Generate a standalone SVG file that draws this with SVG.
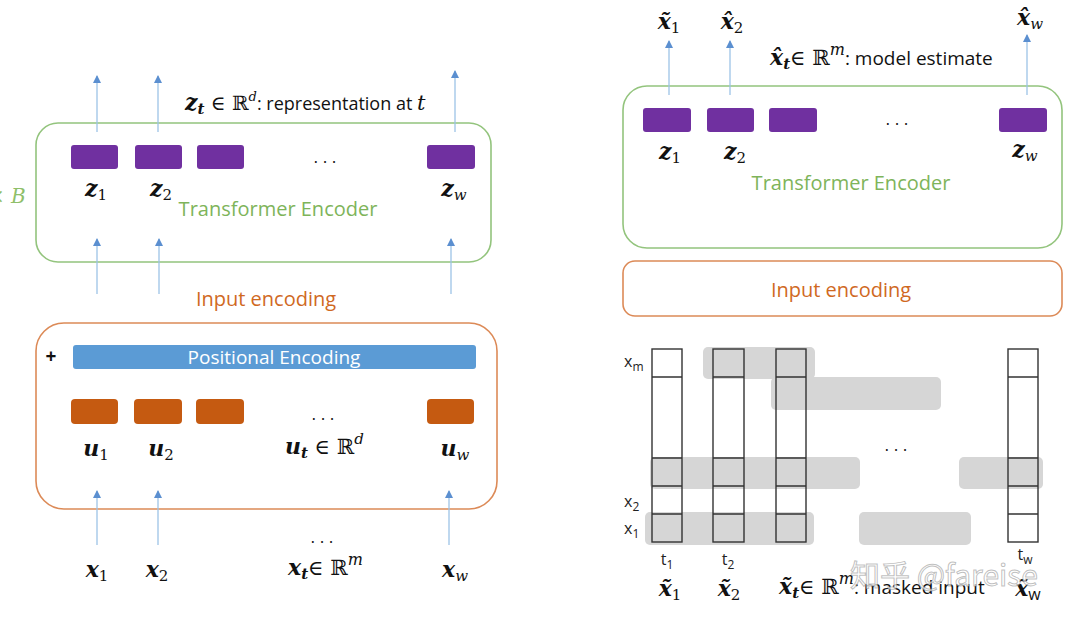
<svg xmlns="http://www.w3.org/2000/svg" width="1080" height="620" viewBox="0 0 1080 620">
<defs>
<marker id="ah" markerUnits="userSpaceOnUse" markerWidth="8" markerHeight="8" refX="7" refY="4" orient="auto">
<path d="M0,0 L8,4 L0,8 z" fill="#5b8fd0"/>
</marker>
<style>
.arr{stroke:#9dc3e6;stroke-width:1.3;fill:none;marker-end:url(#ah)}
.gbox{fill:none;stroke:#93c47d;stroke-width:1.6}
.obox{fill:none;stroke:#dc8a57;stroke-width:1.6}
.pur{fill:#7030a0}
.org{fill:#c55a11}
.m{font-family:"DejaVu Serif","Liberation Serif",serif;fill:#111}
.mb{font-weight:bold;font-style:italic;font-size:22px}
.sub{font-size:15px}
.it{font-style:italic}
.bi{font-style:italic;font-weight:bold}
.sans{font-family:"Open Sans","Noto Sans",sans-serif}
.gt{fill:#7eb45a;font-size:20px}
.ot{fill:#d0691f;font-size:20px}
.dots{font-family:"DejaVu Sans",sans-serif;font-size:16px;fill:#222;letter-spacing:4px}
.gray{fill:#d6d6d6}
.col{fill:none;stroke:#333;stroke-width:1.4}
.cl{font-family:"Open Sans","Noto Sans",sans-serif;font-size:16px;fill:#222}
</style>
</defs>
<rect width="1080" height="620" fill="#fff"/>

<!-- LEFT: Transformer encoder -->
<g id="left-encoder">
<rect class="gbox" x="36" y="123" width="455" height="139" rx="22"/>
<rect class="pur" x="71" y="145" width="47" height="24" rx="3"/>
<rect class="pur" x="135" y="145" width="47" height="24" rx="3"/>
<rect class="pur" x="197" y="145" width="47" height="24" rx="3"/>
<rect class="pur" x="427" y="145" width="48" height="24" rx="3"/>
<text class="dots" x="327" y="163" text-anchor="middle">...</text>
<text class="m" x="96" y="196" text-anchor="middle"><tspan class="mb">z</tspan><tspan class="sub" dy="4">1</tspan></text>
<text class="m" x="161" y="196" text-anchor="middle"><tspan class="mb">z</tspan><tspan class="sub" dy="4">2</tspan></text>
<text class="m" x="454" y="196" text-anchor="middle"><tspan class="mb">z</tspan><tspan class="sub it" dy="4">w</tspan></text>
<text class="sans gt" x="278" y="216" text-anchor="middle">Transformer Encoder</text>
</g>
<g id="times-B">
<text x="-12" y="203" font-family="DejaVu Serif,serif" font-style="italic" font-size="20" fill="#8fbf6a">× B</text>
</g>
<g id="left-z-label">
<text class="m" x="185" y="110"><tspan class="mb">z</tspan><tspan class="sub bi" dy="4">t</tspan><tspan font-size="20" dy="-4"> ∈ ℝ</tspan><tspan class="it" font-size="13" dy="-9">d</tspan><tspan class="sans" font-size="18" dy="9">: representation at </tspan><tspan class="it" font-size="21">t</tspan></text>
</g>
<g id="left-input-label">
<text class="sans ot" x="266" y="306" text-anchor="middle">Input encoding</text>
</g>

<!-- LEFT: Input encoding box -->
<g id="left-input">
<rect class="obox" x="36" y="323" width="461" height="186" rx="28"/>
<text x="51" y="363" font-family="Open Sans,sans-serif" font-size="19" font-weight="bold" text-anchor="middle" fill="#111">+</text>
<rect x="73" y="345" width="403" height="24" rx="3" fill="#5b9bd5"/>
<text class="sans" x="274" y="364" text-anchor="middle" font-size="19" fill="#fff">Positional Encoding</text>
<rect class="org" x="71" y="399" width="47" height="25" rx="4"/>
<rect class="org" x="134" y="399" width="48" height="25" rx="4"/>
<rect class="org" x="196" y="399" width="48" height="25" rx="4"/>
<rect class="org" x="427" y="399" width="47" height="25" rx="4"/>
<text class="dots" x="325" y="420" text-anchor="middle">...</text>
<text class="m" x="96" y="456" text-anchor="middle"><tspan class="mb">u</tspan><tspan class="sub" dy="4">1</tspan></text>
<text class="m" x="161" y="456" text-anchor="middle"><tspan class="mb">u</tspan><tspan class="sub" dy="4">2</tspan></text>
<text class="m" x="285" y="454"><tspan class="mb">u</tspan><tspan class="sub bi" dy="4">t</tspan><tspan font-size="21" dy="-4"> ∈ ℝ</tspan><tspan class="it" font-size="15" dy="-10">d</tspan></text>
<text class="m" x="455" y="456" text-anchor="middle"><tspan class="mb">u</tspan><tspan class="sub it" dy="4">w</tspan></text>
</g>
<g id="left-inputs">
<text class="dots" x="324" y="543" text-anchor="middle">...</text>
<text class="m" x="97" y="577" text-anchor="middle"><tspan class="mb">x</tspan><tspan class="sub" dy="4">1</tspan></text>
<text class="m" x="157" y="577" text-anchor="middle"><tspan class="mb">x</tspan><tspan class="sub" dy="4">2</tspan></text>
<text class="m" x="288" y="575"><tspan class="mb">x</tspan><tspan class="sub bi" dy="4">t</tspan><tspan font-size="21" dy="-4">∈ ℝ</tspan><tspan class="it" font-size="16" dy="-10">m</tspan></text>
<text class="m" x="455" y="577" text-anchor="middle"><tspan class="mb">x</tspan><tspan class="sub it" dy="4">w</tspan></text>
</g>

<!-- RIGHT: Transformer encoder -->
<g id="right-encoder">
<rect class="gbox" x="623" y="86" width="439" height="162" rx="24"/>
<rect class="pur" x="643" y="108" width="48" height="24" rx="3"/>
<rect class="pur" x="707" y="108" width="47" height="24" rx="3"/>
<rect class="pur" x="769" y="108" width="48" height="24" rx="3"/>
<rect class="pur" x="999" y="108" width="48" height="24" rx="3"/>
<text class="dots" x="899" y="125" text-anchor="middle">...</text>
<text class="m" x="670" y="159" text-anchor="middle"><tspan class="mb">z</tspan><tspan class="sub" dy="4">1</tspan></text>
<text class="m" x="735" y="159" text-anchor="middle"><tspan class="mb">z</tspan><tspan class="sub" dy="4">2</tspan></text>
<text class="m" x="1025" y="157" text-anchor="middle"><tspan class="mb">z</tspan><tspan class="sub it" dy="4">w</tspan></text>
<text class="sans gt" x="851" y="190" text-anchor="middle">Transformer Encoder</text>
</g>
<g id="right-outputs">
<text class="m" x="669" y="29" text-anchor="middle"><tspan class="mb">x̃</tspan><tspan class="sub" dy="4">1</tspan></text>
<text class="m" x="732" y="29" text-anchor="middle"><tspan class="mb">x̂</tspan><tspan class="sub" dy="4">2</tspan></text>
<text class="m" x="1030" y="25" text-anchor="middle"><tspan class="mb">x̂</tspan><tspan class="sub it" dy="4">w</tspan></text>
<text class="m" x="770" y="65"><tspan class="mb">x̂</tspan><tspan class="sub bi" dy="4">t</tspan><tspan font-size="21" dy="-4">∈ ℝ</tspan><tspan class="it" font-size="16" dy="-10">m</tspan><tspan class="sans" font-size="19" dy="10">: model estimate</tspan></text>
</g>
<g id="right-input">
<rect class="obox" x="623" y="261" width="439" height="55" rx="12"/>
<text class="sans ot" x="841" y="297" text-anchor="middle">Input encoding</text>
</g>

<!-- RIGHT: masked input grid -->
<g id="mask-bars">
<rect class="gray" x="703" y="347" width="112" height="32" rx="5"/>
<rect class="gray" x="771" y="377" width="170" height="33" rx="5"/>
<rect class="gray" x="650" y="457" width="210" height="32" rx="5"/>
<rect class="gray" x="959" y="457" width="84" height="32" rx="5"/>
<rect class="gray" x="645" y="512" width="169" height="33" rx="5"/>
<rect class="gray" x="859" y="512" width="112" height="33" rx="5"/>
</g>
<g id="col-1">
<rect class="col" x="652" y="349" width="30" height="193"/>
<path class="col" d="M652 377H682M652 458H682M652 486H682M652 514H682"/>
</g>
<g id="col-2">
<rect class="col" x="713" y="349" width="31" height="193"/>
<path class="col" d="M713 377H744M713 458H744M713 486H744M713 514H744"/>
</g>
<g id="col-3">
<rect class="col" x="776" y="349" width="30" height="193"/>
<path class="col" d="M776 377H806M776 458H806M776 486H806M776 514H806"/>
</g>
<g id="col-w">
<rect class="col" x="1008" y="349" width="30" height="193"/>
<path class="col" d="M1008 377H1038M1008 458H1038M1008 486H1038M1008 514H1038"/>
</g>
<g id="grid-labels">
<text class="cl" x="624" y="367">x<tspan font-size="12" dy="4">m</tspan></text>
<text class="cl" x="624" y="507">x<tspan font-size="12" dy="4">2</tspan></text>
<text class="cl" x="624" y="534">x<tspan font-size="12" dy="4">1</tspan></text>
<text class="dots" x="898" y="451" text-anchor="middle">...</text>
<text class="cl" x="667" y="565" text-anchor="middle">t<tspan font-size="12" dy="4">1</tspan></text>
<text class="cl" x="728" y="565" text-anchor="middle">t<tspan font-size="12" dy="4">2</tspan></text>
<text class="cl" x="1025" y="560" text-anchor="middle">t<tspan font-size="12" dy="4">w</tspan></text>
<text class="m" x="670" y="596" text-anchor="middle"><tspan class="mb">x̃</tspan><tspan class="sub" dy="4">1</tspan></text>
<text class="m" x="729" y="596" text-anchor="middle"><tspan class="mb">x̃</tspan><tspan class="sub" dy="4">2</tspan></text>
<text class="m" x="779" y="594"><tspan class="mb">x̃</tspan><tspan class="sub bi" dy="4">t</tspan><tspan font-size="21" dy="-4">∈ ℝ</tspan><tspan class="it" font-size="16" dy="-10">m</tspan><tspan class="sans" font-size="19" dy="10">: masked input</tspan></text>
<text class="m" x="1028" y="596" text-anchor="middle"><tspan class="mb">x̃</tspan><tspan class="sans" font-size="16" dy="4">w</tspan></text>
</g>

<g id="connectors">
<line class="arr" x1="97" y1="132" x2="97" y2="76"/>
<line class="arr" x1="158" y1="132" x2="158" y2="76"/>
<line class="arr" x1="455" y1="132" x2="455" y2="71"/>
<line class="arr" x1="97" y1="294" x2="97" y2="239"/>
<line class="arr" x1="159" y1="294" x2="159" y2="239"/>
<line class="arr" x1="451" y1="294" x2="451" y2="239"/>
<line class="arr" x1="97" y1="545" x2="97" y2="491"/>
<line class="arr" x1="158" y1="545" x2="158" y2="491"/>
<line class="arr" x1="449" y1="545" x2="449" y2="491"/>
<line class="arr" x1="669" y1="95" x2="669" y2="41"/>
<line class="arr" x1="730" y1="95" x2="730" y2="41"/>
<line class="arr" x1="1027" y1="95" x2="1027" y2="35"/>
</g>

<g id="watermark">
<text x="850" y="586" font-family="Noto Sans CJK SC,Open Sans,sans-serif" font-size="30" fill="#fff" fill-opacity="0.7" stroke="#8a8a8a" stroke-opacity="0.55" stroke-width="1">知乎 @fareise</text>
</g>
</svg>
